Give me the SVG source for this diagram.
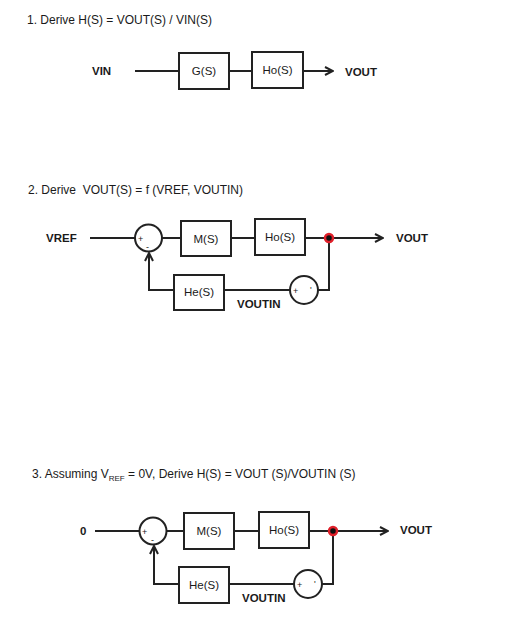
<svg xmlns="http://www.w3.org/2000/svg" width="512" height="642" viewBox="0 0 512 642">
<defs>
<style>
text{font-family:"Liberation Sans",Arial,sans-serif;fill:#1a1a1a}
.t{font-size:12px}
.lb{font-size:11.5px;font-weight:bold}
.bx{font-size:11.5px}
.sg{font-size:9px}
rect{fill:#fff;stroke:#222;stroke-width:2}
circle.s{fill:#fff;stroke:#222;stroke-width:2}
.w{fill:none;stroke:#222;stroke-width:2}
.dot{fill:#111;stroke:#e0202a;stroke-width:2.5}
</style>
<marker id="ah" viewBox="0 0 10 10" refX="9" refY="5" markerWidth="5" markerHeight="5" orient="auto" markerUnits="strokeWidth">
<path d="M1,1 L9,5 L1,9" fill="none" stroke="#222" stroke-width="2"/>
</marker>
</defs>
<rect x="0" y="0" width="512" height="642" style="fill:#fff;stroke:none"/>

<text class="t" x="27" y="24">1. Derive H(S) = VOUT(S) / VIN(S)</text>
<text class="t" x="28" y="194">2. Derive &#160;VOUT(S) = f (VREF, VOUTIN)</text>
<text class="t" x="32" y="478">3. Assuming V<tspan font-size="8" dy="3">REF</tspan><tspan dy="-3"> = 0V, Derive H(S) = VOUT (S)/VOUTIN (S)</tspan></text>

<g id="connectors">
<line class="w" x1="135" y1="71" x2="179" y2="71"/>
<line class="w" x1="229" y1="71" x2="252" y2="71"/>
<line class="w" x1="303" y1="71" x2="333" y2="71" marker-end="url(#ah)"/>

<line class="w" x1="90" y1="238" x2="135" y2="238"/>
<line class="w" x1="162" y1="238" x2="181" y2="238"/>
<line class="w" x1="231" y1="238" x2="255" y2="238"/>
<line class="w" x1="305" y1="238" x2="383" y2="238" marker-end="url(#ah)"/>
<polyline class="w" points="329,238 329,290 318,290"/>
<line class="w" x1="290" y1="290" x2="224" y2="290"/>
<polyline class="w" points="174,290 149,290 149,253" marker-end="url(#ah)"/>

<line class="w" x1="95" y1="531" x2="139" y2="531"/>
<line class="w" x1="167" y1="531" x2="184" y2="531"/>
<line class="w" x1="234" y1="531" x2="259" y2="531"/>
<line class="w" x1="309" y1="531" x2="388" y2="531" marker-end="url(#ah)"/>
<polyline class="w" points="333,531 333,584 322,584"/>
<line class="w" x1="294" y1="584" x2="229" y2="584"/>
<polyline class="w" points="179,584 154,584 154,546" marker-end="url(#ah)"/>
</g>

<g id="vin"><text class="lb" x="92" y="75">VIN</text></g>
<g id="g1"><rect x="179" y="53" width="50" height="36"/><text class="bx" x="204" y="75" text-anchor="middle">G(S)</text></g>
<g id="ho1"><rect x="252" y="52" width="51" height="36"/><text class="bx" x="277.5" y="74" text-anchor="middle">Ho(S)</text></g>
<g id="vout1"><text class="lb" x="345" y="76">VOUT</text></g>

<g id="vref"><text class="lb" x="46" y="242">VREF</text></g>
<g id="sum2"><circle class="s" cx="148.5" cy="238" r="13.5"/><text class="sg" x="138" y="242">+</text><text class="sg" x="146" y="250">-</text></g>
<g id="m2"><rect x="181" y="221" width="50" height="35"/><text class="bx" x="206" y="243" text-anchor="middle">M(S)</text></g>
<g id="ho2"><rect x="255" y="219" width="50" height="36"/><text class="bx" x="280" y="241" text-anchor="middle">Ho(S)</text></g>
<g id="node2"><circle class="dot" cx="329" cy="238" r="4"/></g>
<g id="vout2"><text class="lb" x="396" y="242">VOUT</text></g>
<g id="sumb2"><circle class="s" cx="304" cy="290" r="14"/><text class="sg" x="293" y="294">+</text><text class="sg" x="310" y="293">'</text></g>
<g id="he2"><rect x="174" y="275" width="50" height="35"/><text class="bx" x="199" y="296" text-anchor="middle">He(S)</text></g>
<g id="voutin2"><text class="lb" x="237" y="308">VOUTIN</text></g>

<g id="zero"><text class="lb" x="80" y="535">0</text></g>
<g id="sum3"><circle class="s" cx="153" cy="531" r="13.5"/><text class="sg" x="142" y="535">+</text><text class="sg" x="151" y="543">-</text></g>
<g id="m3"><rect x="184" y="513" width="50" height="36"/><text class="bx" x="209" y="535" text-anchor="middle">M(S)</text></g>
<g id="ho3"><rect x="259" y="512" width="50" height="36"/><text class="bx" x="284" y="534" text-anchor="middle">Ho(S)</text></g>
<g id="node3"><circle class="dot" cx="333" cy="531" r="4"/></g>
<g id="vout3"><text class="lb" x="400" y="534">VOUT</text></g>
<g id="sumb3"><circle class="s" cx="308" cy="584" r="14"/><text class="sg" x="297" y="588">+</text><text class="sg" x="314" y="587">'</text></g>
<g id="he3"><rect x="179" y="567" width="50" height="36"/><text class="bx" x="204" y="589" text-anchor="middle">He(S)</text></g>
<g id="voutin3"><text class="lb" x="242" y="602">VOUTIN</text></g>
</svg>
